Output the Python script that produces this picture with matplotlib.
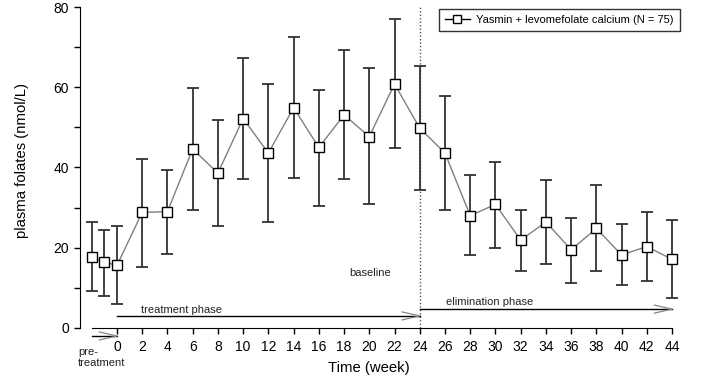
import matplotlib
matplotlib.use('Agg')
import matplotlib.pyplot as plt

plt.rcParams['font.family'] = ['Liberation Sans', 'DejaVu Sans']

# weeks (-2 and -1 are the pre-treatment samples)
weeks = [-2, -1, 0, 2, 4, 6, 8, 10, 12, 14, 16, 18, 20, 22, 24,
         26, 28, 30, 32, 34, 36, 38, 40, 42, 44]
means = [17.6, 16.4, 15.6, 28.8, 29.0, 44.6, 38.6, 52.2, 43.6, 54.9, 45.0, 53.1, 47.7, 60.8, 49.8,
         43.6, 28.0, 30.8, 21.9, 26.4, 19.5, 24.8, 18.2, 20.3, 17.1]
upper = [26.3, 24.5, 25.3, 42.1, 39.4, 59.8, 51.9, 67.3, 60.8, 72.5, 59.4, 69.2, 64.8, 77.0, 65.3,
         57.9, 38.2, 41.4, 29.4, 36.9, 27.5, 35.7, 25.9, 29.0, 26.9]
lower = [9.2, 8.0, 6.0, 15.3, 18.5, 29.3, 25.3, 37.2, 26.5, 37.5, 30.3, 37.1, 30.8, 44.9, 34.5,
         29.5, 18.1, 20.0, 14.1, 15.9, 11.1, 14.2, 10.6, 11.7, 7.5]

xticks = list(range(0, 45, 2))
yticks = [0, 20, 40, 60, 80]
legend_label = 'Yasmin + levomefolate calcium (N = 75)'

W, H = 719, 378
fig = plt.figure(figsize=(W / 100, H / 100), dpi=100)
# axes: x px 80..691, y px 5..340
ax = fig.add_axes([80 / W, (H - 340) / H, (691 - 80) / W, (340 - 5) / H])
ax.set_xlim(-2.93, 45.5)
ax.set_ylim(-3.0, 80.5)

err_lo = [m - l for m, l in zip(means, lower)]
err_hi = [u - m for m, u in zip(means, upper)]
ax.errorbar(weeks, means, yerr=[err_lo, err_hi], fmt='none', ecolor='#333333',
            elinewidth=1.3, capsize=4, capthick=1.3, zorder=2)
ax.plot(weeks, means, color='#808080', lw=1.0, zorder=3)
ax.plot(weeks, means, ls='none', marker='s', ms=6.5, mfc='white', mec='black',
        mew=1.0, zorder=4)

# legend handle
h, = ax.plot([], [], color='black', lw=1.0, marker='s', ms=6, mfc='white', mec='black')
leg = ax.legend([h], [legend_label], loc='upper left', bbox_to_anchor=(0.5876, 0.988),
                fontsize=8, frameon=True, fancybox=False, handlelength=2.2,
                borderpad=0.55, handletextpad=0.6, borderaxespad=0)
leg.get_frame().set_edgecolor('black')
leg.get_frame().set_linewidth(1.0)

# baseline marker
ax.plot([24, 24], [0, 80], color='#555555', lw=1.0, ls=(0, (1, 1.5)), zorder=1)
ax.text(20.1, 13.8, 'baseline', fontsize=8, ha='center', va='center', color='#222222')

def phase_arrow(x0, x1, y):
    ax.plot([x0, x1], [y, y], color='black', lw=1.0, clip_on=False)
    ax.plot([x1 - 1.4, x1, x1 - 1.4], [y + 1.0, y, y - 1.0], color='#888888',
            lw=0.9, clip_on=False)

phase_arrow(0, 24, 3.0)
ax.text(5.1, 4.5, 'treatment phase', fontsize=8, ha='center', va='center', color='#222222')
phase_arrow(24, 44, 4.7)
ax.text(29.5, 6.5, 'elimination phase', fontsize=8, ha='center', va='center', color='#222222')
phase_arrow(-2, 0, -2.0)
ax.text(-3.1, -6.0, 'pre-', fontsize=8, ha='left', va='center',
        color='#222222', clip_on=False)
ax.text(-3.1, -8.8, 'treatment', fontsize=8, ha='left', va='center',
        color='#222222', clip_on=False)

# R-like axes
for s in ['top', 'right']:
    ax.spines[s].set_visible(False)
ax.spines['bottom'].set_position(('data', 0))
ax.spines['bottom'].set_bounds(-2, 44)
ax.spines['left'].set_bounds(0, 80)
ax.set_xticks(xticks)
ax.set_yticks(yticks)
ax.set_yticks([10, 30, 50, 70], minor=True)
ax.tick_params(axis='both', which='both', direction='out', length=4.5, width=1.0,
               labelsize=10)
ax.tick_params(axis='x', pad=4)

ax.set_xlabel('Time (week)', fontsize=10.7)
ax.set_ylabel('plasma folates (nmol/L)', fontsize=10.7)
ax.xaxis.set_label_coords((369 - 80) / (691 - 80), -(361 - 340) / (340 - 5))
ax.yaxis.set_label_coords((29 - 80) / (691 - 80), (340 - 160) / (340 - 5))

fig.savefig('out.png', dpi=100)
